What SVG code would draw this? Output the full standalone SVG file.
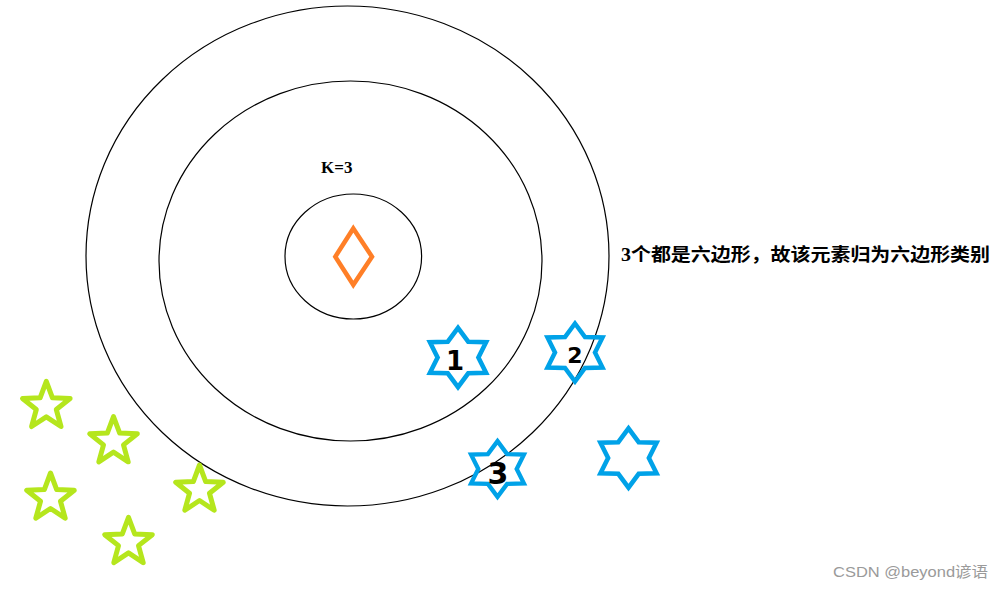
<svg xmlns="http://www.w3.org/2000/svg" xmlns:xlink="http://www.w3.org/1999/xlink" width="1006" height="594" viewBox="0 0 1006 594">
<style>
.ring{fill:none;stroke:#000;stroke-width:1.2}
.hex{fill:none;stroke:#00A2E8;stroke-width:4.5;stroke-linejoin:miter}
.pent{fill:none;stroke:#B5E61D;stroke-width:5;stroke-linejoin:round}
.dia{fill:none;stroke:#FF7F27;stroke-width:4.5;stroke-linejoin:miter}
.lbl{font-family:"Liberation Serif","Noto Sans CJK SC",serif;font-weight:bold;fill:#000}
.num{font-family:"DejaVu Sans","Liberation Sans",sans-serif;font-weight:bold;fill:#000}
.wm{font-family:"Liberation Sans","Noto Sans CJK SC",sans-serif;fill:#9a9a9a}
</style>
<defs>
<polygon id="hexagram" points="0,-29 10,-15.5 27.5,-15 20,0 27.5,15 10,15.5 0,29 -10,15.5 -27.5,15 -20,0 -27.5,-15 -10,-15.5"/>
<polygon id="star5" points="0,-25 6.17,-8.49 23.78,-7.73 9.99,3.24 14.69,20.23 0,10.5 -14.69,20.23 -9.99,3.24 -23.78,-7.73 -6.17,-8.49"/>
</defs>
<rect width="1006" height="594" fill="#fff"/>
<g id="rings">
<ellipse class="ring" cx="347.5" cy="256" rx="261.5" ry="250"/>
<ellipse class="ring" cx="350.5" cy="261" rx="191.5" ry="180"/>
<ellipse class="ring" cx="353.3" cy="256.5" rx="68.3" ry="62.5"/>
</g>
<g id="query">
<polygon class="dia" points="353.3,228.5 372,256.7 353.3,284.8 335.3,256.7"/>
</g>
<g id="k-label"><text class="lbl" x="321" y="172.5" font-size="17">K=3</text></g>
<g id="hex1"><use href="#hexagram" class="hex" transform="translate(458,357.5) scale(1.02)"/><text class="num" x="455" y="370" font-size="26" text-anchor="middle">1</text></g>
<g id="hex2"><use href="#hexagram" class="hex" transform="translate(575,352.5)"/><text class="num" x="575" y="363" font-size="22" text-anchor="middle">2</text></g>
<g id="hex3"><use href="#hexagram" class="hex" transform="translate(497.5,469) scale(0.96)"/><text class="num" x="498" y="484" font-size="30" text-anchor="middle">3</text></g>
<g id="hex4"><use href="#hexagram" class="hex" transform="translate(628.5,458) scale(1.02)"/></g>
<g id="star-a"><use href="#star5" class="pent" transform="translate(46.3,406.3)"/></g>
<g id="star-b"><use href="#star5" class="pent" transform="translate(113.5,441.6)"/></g>
<g id="star-c"><use href="#star5" class="pent" transform="translate(50.5,498)"/></g>
<g id="star-d"><use href="#star5" class="pent" transform="translate(199.5,490)"/></g>
<g id="star-e"><use href="#star5" class="pent" transform="translate(128.5,542.4)"/></g>
<g id="note"><text class="lbl" x="621" y="261" font-size="18" textLength="369" lengthAdjust="spacingAndGlyphs">3个都是六边形，故该元素归为六边形类别</text></g>
<g id="watermark"><text class="wm" x="833" y="577" font-size="15" textLength="155" lengthAdjust="spacingAndGlyphs">CSDN @beyond谚语</text></g>
</svg>
